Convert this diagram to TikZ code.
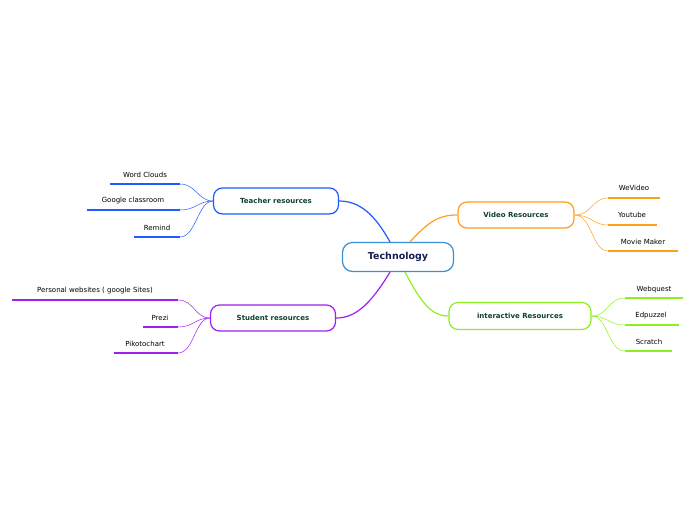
\documentclass[tikz,border=0pt]{standalone}
\usepackage{fontspec}
\setmainfont{DejaVu Sans}
\definecolor{tblue}{HTML}{1F5BFF}
\definecolor{torange}{HTML}{FF9F1A}
\definecolor{tpurple}{HTML}{A020F0}
\definecolor{tgreen}{HTML}{8CF020}
\definecolor{ctr}{HTML}{3A8FD0}
\definecolor{dtext}{HTML}{0E4030}
\definecolor{ctext}{HTML}{141E50}
\tikzset{
 br/.style={draw=#1, line width=1.2pt, rounded corners=9pt, fill=white, text=dtext, font=\fontsize{7}{8}\selectfont\bfseries, inner sep=0pt},
 leaf/.style={font=\fontsize{7}{8}\selectfont, text=black, inner sep=0pt},
 ul/.style={draw=#1, line width=1.6pt},
 tw/.style={draw=#1, line width=0.5pt},
}
\begin{document}
\begin{tikzpicture}[x=1pt,y=-1pt]
\useasboundingbox (0,0) rectangle (696,520);
\node[draw=ctr, line width=1.2pt, rounded corners=10pt, fill=white, text=ctext, font=\fontsize{9.5}{11}\selectfont\bfseries, minimum width=111pt, minimum height=29pt, inner sep=0pt] (c) at (398,257) {Technology};
\node[br=tblue, minimum width=125pt, minimum height=26pt] (t) at (276,201) {Teacher resources};
\node[br=torange, minimum width=116pt, minimum height=26pt] (v) at (516,215) {Video Resources};
\node[br=tpurple, minimum width=125pt, minimum height=26pt] (s) at (273,318) {Student resources};
\node[br=tgreen, minimum width=142pt, minimum height=27pt] (i) at (520,316) {interactive Resources};
\draw[tblue, line width=1.2pt] ([xshift=-8pt]c.north) .. controls (375,215) and (360,201) .. (t.east);
\draw[torange, line width=1.2pt] ([xshift=12pt]c.north) .. controls (430,220) and (440,215) .. (v.west);
\draw[tpurple, line width=1.2pt] ([xshift=-8pt]c.south) .. controls (370,305) and (355,318) .. (s.east);
\draw[tgreen, line width=1.2pt] ([xshift=7pt]c.south) .. controls (420,300) and (430,316) .. (i.west);
\foreach \nm/\tx/\ty/\ux/\uy/\txt in {t1/145/175/110/184/Word Clouds, t2/133/201/87/210/Google classroom, t3/157/228/134/237/Remind}{
 \node[leaf] (\nm) at (\tx,\ty) {\txt};
 \coordinate (\nm a) at (\ux,\uy); \coordinate (\nm b) at (180,\uy);
 \draw[ul=tblue] (\nm a) -- (\nm b);
 \draw[tw=tblue] (t.west) .. controls (198,201) and (196,\uy) .. (\nm b);
}
\foreach \nm/\tx/\ty/\ux/\uy/\txt in {s1/95/291/12/300/Personal websites ( google Sites), s2/160/318/143/327/Prezi, s3/145/344/114/353/Pikotochart}{
 \node[leaf] (\nm) at (\tx,\ty) {\txt};
 \coordinate (\nm a) at (\ux,\uy); \coordinate (\nm b) at (178,\uy);
 \draw[ul=tpurple] (\nm a) -- (\nm b);
 \draw[tw=tpurple] (s.west) .. controls (195,318) and (194,\uy) .. (\nm b);
}
\foreach \nm/\tx/\ty/\ux/\uy/\txt in {v1/634/188/660/198/WeVideo, v2/632/215/657/225/Youtube, v3/643/242/678/251/Movie Maker}{
 \node[leaf] (\nm) at (\tx,\ty) {\txt};
 \coordinate (\nm a) at (608,\uy); \coordinate (\nm b) at (\ux,\uy);
 \draw[ul=torange] (\nm a) -- (\nm b);
 \draw[tw=torange] (v.east) .. controls (592,215) and (592,\uy) .. (\nm a);
}
\foreach \nm/\tx/\ty/\ux/\uy/\txt in {i1/654/290/683/298/Webquest, i2/651/316/679/325/Edpuzzel, i3/649/342/672/351/Scratch}{
 \node[leaf] (\nm) at (\tx,\ty) {\txt};
 \coordinate (\nm a) at (625,\uy); \coordinate (\nm b) at (\ux,\uy);
 \draw[ul=tgreen] (\nm a) -- (\nm b);
 \draw[tw=tgreen] (i.east) .. controls (608,316) and (608,\uy) .. (\nm a);
}
\end{tikzpicture}
\end{document}
